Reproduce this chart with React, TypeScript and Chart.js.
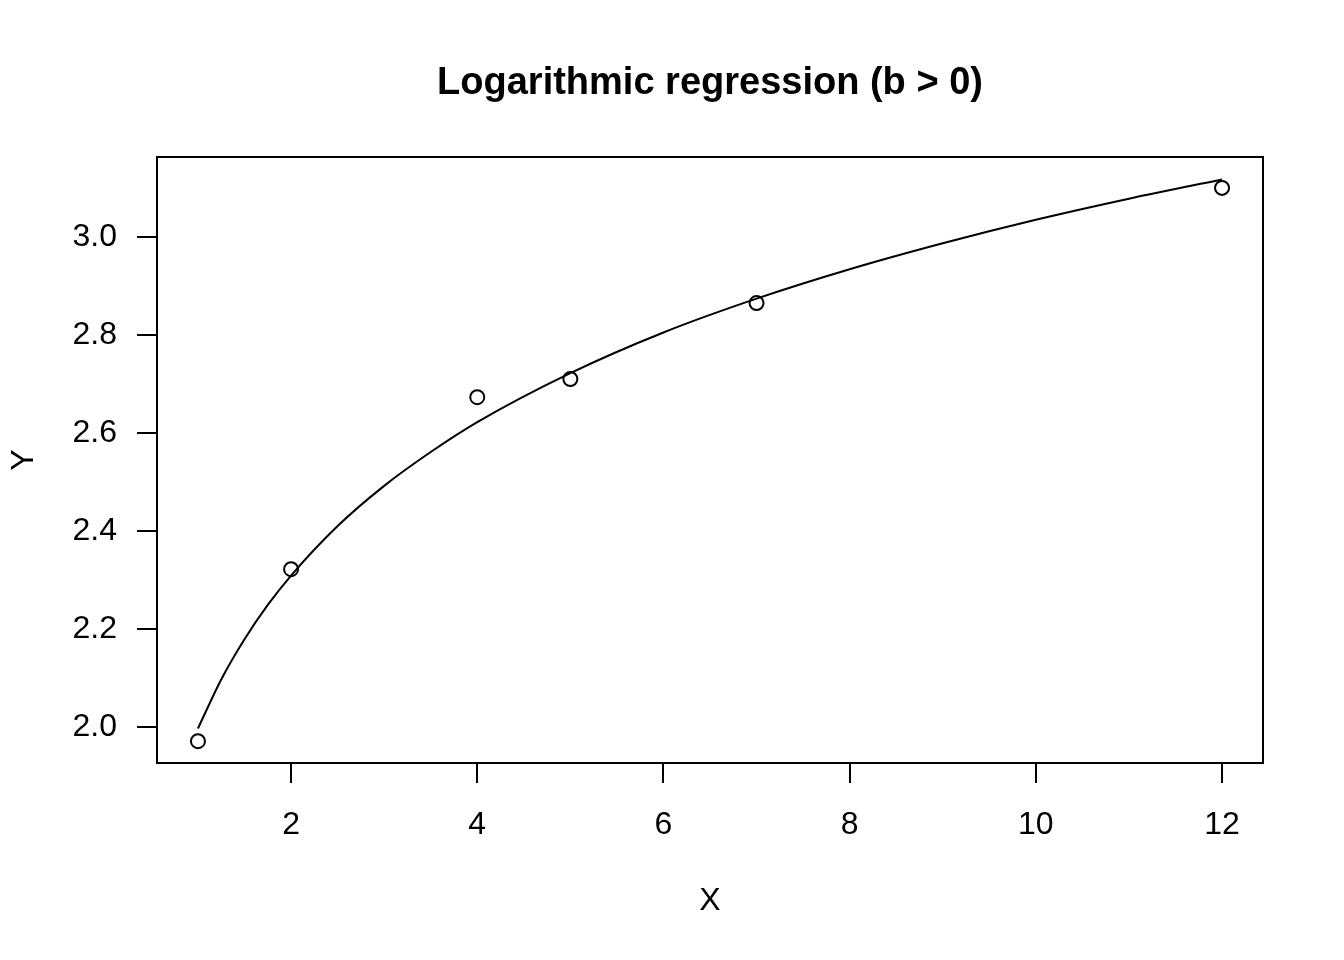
import { useEffect, useRef } from 'react';
import { Chart, ChartConfiguration, registerables } from 'chart.js';

Chart.register(...registerables);

// observed points
const pointX = [1, 2, 4, 5, 7, 12];
const pointY = [1.971, 2.322, 2.673, 2.71, 2.865, 3.1];

// fitted curve
const curveX = [1, 1.25, 1.5, 1.75, 2, 2.5, 3, 3.5, 4, 5, 6, 7, 8, 9, 10, 11, 12];
const curveY = [1.997, 2.097, 2.179, 2.249, 2.309, 2.41, 2.492, 2.561, 2.622, 2.722, 2.805, 2.874, 2.934, 2.987, 3.035, 3.078, 3.117];

const xTicks = [2, 4, 6, 8, 10, 12];
const yTicks = [2.0, 2.2, 2.4, 2.6, 2.8, 3.0];

const FONT = '"Liberation Sans", Arial, Helvetica, sans-serif';

const frame = {
  id: 'frame',
  afterDraw(chart: Chart) {
    const { ctx, chartArea } = chart;
    ctx.save();
    ctx.strokeStyle = '#000';
    ctx.lineWidth = 2;
    ctx.strokeRect(chartArea.left, chartArea.top, chartArea.right - chartArea.left, chartArea.bottom - chartArea.top);
    ctx.fillStyle = '#000';
    ctx.font = `bold 38px ${FONT}`;
    ctx.textAlign = 'center';
    ctx.textBaseline = 'alphabetic';
    ctx.fillText('Logarithmic regression (b > 0)', (chartArea.left + chartArea.right) / 2, 94);
    ctx.restore();
  },
};

export default function App() {
  const canvasRef = useRef<HTMLCanvasElement>(null);

  useEffect(() => {
    document.body.style.margin = '0';
    if (!canvasRef.current) return;

    const config: ChartConfiguration = {
      type: 'scatter',
      data: {
        datasets: [
          {
            label: 'fit',
            data: curveX.map((x, i) => ({ x, y: curveY[i] })),
            showLine: true,
            borderColor: '#000',
            borderWidth: 2,
            pointRadius: 0,
            tension: 0.4,
            cubicInterpolationMode: 'monotone',
          },
          {
            label: 'data',
            data: pointX.map((x, i) => ({ x, y: pointY[i] })),
            borderColor: '#000',
            backgroundColor: 'rgba(0,0,0,0)',
            borderWidth: 2,
            pointRadius: 7,
            showLine: false,
          },
        ],
      },
      options: {
        responsive: false,
        animation: false,
        layout: { padding: { top: 157, right: 81, left: 0, bottom: 0 } },
        plugins: {
          legend: { display: false },
          title: { display: false },
          tooltip: { enabled: false },
        },
        scales: {
          x: {
            type: 'linear',
            min: 0.56,
            max: 12.44,
            afterBuildTicks: (scale: any) => {
              scale.ticks = xTicks.map((v) => ({ value: v }));
            },
            afterFit: (scale: any) => {
              scale.height = 197;
            },
            grid: { drawOnChartArea: false, drawTicks: true, tickLength: 20, color: '#000', lineWidth: 2 },
            border: { display: false },
            ticks: {
              color: '#000',
              padding: 23,
              maxRotation: 0,
              font: { family: FONT, size: 32 },
              callback: (v: any) => String(v),
            },
            title: {
              display: true,
              text: 'X',
              color: '#000',
              font: { family: FONT, size: 32 },
              padding: { top: 0, bottom: 40 },
            },
          },
          y: {
            type: 'linear',
            min: 1.9265,
            max: 3.163,
            afterBuildTicks: (scale: any) => {
              scale.ticks = yTicks.map((v) => ({ value: v }));
            },
            afterFit: (scale: any) => {
              scale.width = 157;
            },
            grid: { drawOnChartArea: false, drawTicks: true, tickLength: 20, color: '#000', lineWidth: 2 },
            border: { display: false },
            ticks: {
              color: '#000',
              padding: 20,
              font: { family: FONT, size: 32 },
              callback: (v: any) => Number(v).toFixed(1),
            },
            title: {
              display: true,
              text: 'Y',
              color: '#000',
              font: { family: FONT, size: 32 },
              padding: { top: 5, bottom: 0 },
            },
          },
        },
      },
      plugins: [frame],
    };

    const chart = new Chart(canvasRef.current, config);
    return () => chart.destroy();
  }, []);

  return (
    <div style={{ width: 1344, height: 960, background: '#fff' }}>
      <canvas ref={canvasRef} width={1344} height={960} />
    </div>
  );
}
